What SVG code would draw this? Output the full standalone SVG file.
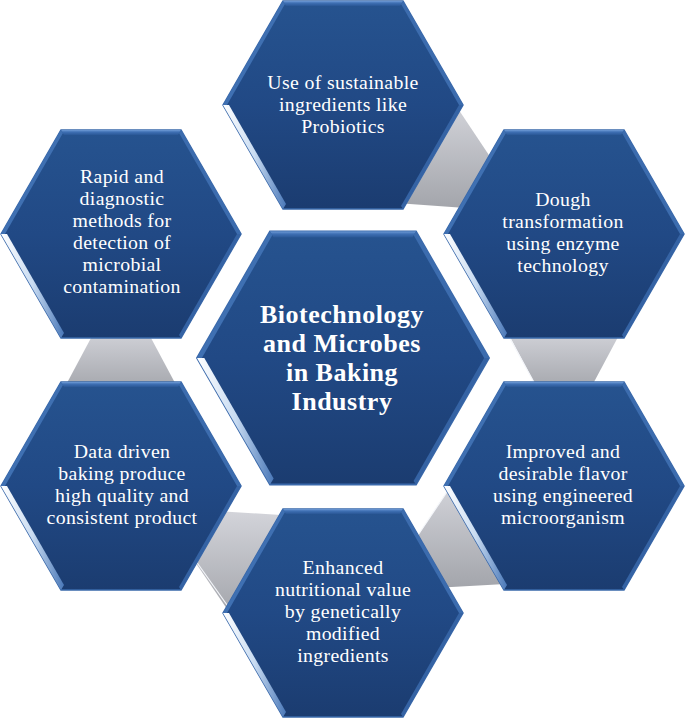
<svg xmlns="http://www.w3.org/2000/svg" xmlns:xlink="http://www.w3.org/1999/xlink" width="685" height="718" viewBox="0 0 685 718">
<style>
.t{font-family:"Liberation Serif","Times New Roman",serif;font-size:19.8px;letter-spacing:0.35px;fill:#ffffff;text-anchor:middle}
.tb{font-family:"Liberation Serif","Times New Roman",serif;font-size:26px;letter-spacing:0.5px;font-weight:bold;fill:#ffffff;text-anchor:middle}
.conn{fill:url(#gGray)}
.hl{stroke:#f4f6fa;stroke-width:1.2;fill:none}
</style>
<defs>
<linearGradient id="gBlue" x1="0" y1="0" x2="0" y2="1">
<stop offset="0" stop-color="#26538f"/>
<stop offset="0.5" stop-color="#214985"/>
<stop offset="1" stop-color="#1b3c70"/>
</linearGradient>
<linearGradient id="gGray" x1="0" y1="0" x2="0" y2="1">
<stop offset="0" stop-color="#d3d4da"/>
<stop offset="1" stop-color="#a3a5ab"/>
</linearGradient>
<linearGradient id="gTop" x1="0" y1="0" x2="0" y2="1">
<stop offset="0" stop-color="#6f9bd6"/>
<stop offset="0.4" stop-color="#3f70b4"/>
<stop offset="1" stop-color="#2a5796"/>
</linearGradient>
<linearGradient id="gLL" x1="0" y1="0" x2="1" y2="0">
<stop offset="0" stop-color="#ffffff"/>
<stop offset="0.5" stop-color="#c9dcf2"/>
<stop offset="1" stop-color="#4a78b8"/>
</linearGradient>
<g id="hex">
<polygon points="-120,0 -60,-104 60,-104 120,0 60,104 -60,104" fill="url(#gBlue)" stroke="#3a69ab" stroke-width="1.5"/>
<polygon points="-60,-104 60,-104 57,-99 -57,-99" fill="url(#gTop)"/>
<polygon points="-120,0 -60,104 -57,99 -114,0" fill="url(#gLL)"/>
<polygon points="-120,0 -60,-104 -58,-101 -116,0" fill="#3f70b2"/>
<polygon points="120,0 60,-104 58,-101 116,0" fill="#3c6cae"/>
<polygon points="120,0 60,104 58,101 116,0" fill="#3563a4"/>
</g>
</defs>
<g id="connectors">
<polygon class="conn" points="395.8,202.9 454.2,102.9 494.9,164.0 469.1,208.2"/>
<polygon class="conn" points="505.7,329 622.3,329 589.2,391 538.8,391"/>
<polygon class="conn" points="452.7,483.0 510.5,583.6 438.1,587.8 412.7,543.6"/>
<polygon class="conn" points="289.2,515.5 231.8,616.1 190.7,555.4 216.1,511.0"/>
<polygon class="conn" points="179.3,391 62.7,391 95.8,329 146.2,329"/>
<line class="hl" x1="507" y1="333" x2="536" y2="386"/>
<line class="hl" x1="414" y1="541" x2="451" y2="486"/>
<line class="hl" x1="193" y1="557" x2="232" y2="612"/>
</g>
<g id="node-top">
<use xlink:href="#hex" transform="translate(343,105)"/>
<text class="t" x="343" y="89">Use of sustainable</text>
<text class="t" x="343" y="111">ingredients like</text>
<text class="t" x="343" y="133">Probiotics</text>
</g>
<g id="node-upper-right">
<use xlink:href="#hex" transform="translate(564,234)"/>
<text class="t" x="563" y="206">Dough</text>
<text class="t" x="563" y="228">transformation</text>
<text class="t" x="563" y="250">using enzyme</text>
<text class="t" x="563" y="272">technology</text>
</g>
<g id="node-lower-right">
<use xlink:href="#hex" transform="translate(564,486)"/>
<text class="t" x="563" y="458">Improved and</text>
<text class="t" x="563" y="480">desirable flavor</text>
<text class="t" x="563" y="502">using engineered</text>
<text class="t" x="563" y="524">microorganism</text>
</g>
<g id="node-bottom">
<use xlink:href="#hex" transform="translate(343,613)"/>
<text class="t" x="343" y="574">Enhanced</text>
<text class="t" x="343" y="596">nutritional value</text>
<text class="t" x="343" y="618">by genetically</text>
<text class="t" x="343" y="640">modified</text>
<text class="t" x="343" y="662">ingredients</text>
</g>
<g id="node-lower-left">
<use xlink:href="#hex" transform="translate(121,486)"/>
<text class="t" x="122" y="458">Data driven</text>
<text class="t" x="122" y="480">baking produce</text>
<text class="t" x="122" y="502">high quality and</text>
<text class="t" x="122" y="524">consistent product</text>
</g>
<g id="node-upper-left">
<use xlink:href="#hex" transform="translate(121,234)"/>
<text class="t" x="122" y="183">Rapid and</text>
<text class="t" x="122" y="205">diagnostic</text>
<text class="t" x="122" y="227">methods for</text>
<text class="t" x="122" y="249">detection of</text>
<text class="t" x="122" y="271">microbial</text>
<text class="t" x="122" y="293">contamination</text>
</g>
<g id="node-center">
<use xlink:href="#hex" transform="translate(343,358) scale(1.2167)"/>
<text class="tb" x="342" y="323">Biotechnology</text>
<text class="tb" x="342" y="352">and Microbes</text>
<text class="tb" x="342" y="381">in Baking</text>
<text class="tb" x="342" y="410">Industry</text>
</g>
</svg>
